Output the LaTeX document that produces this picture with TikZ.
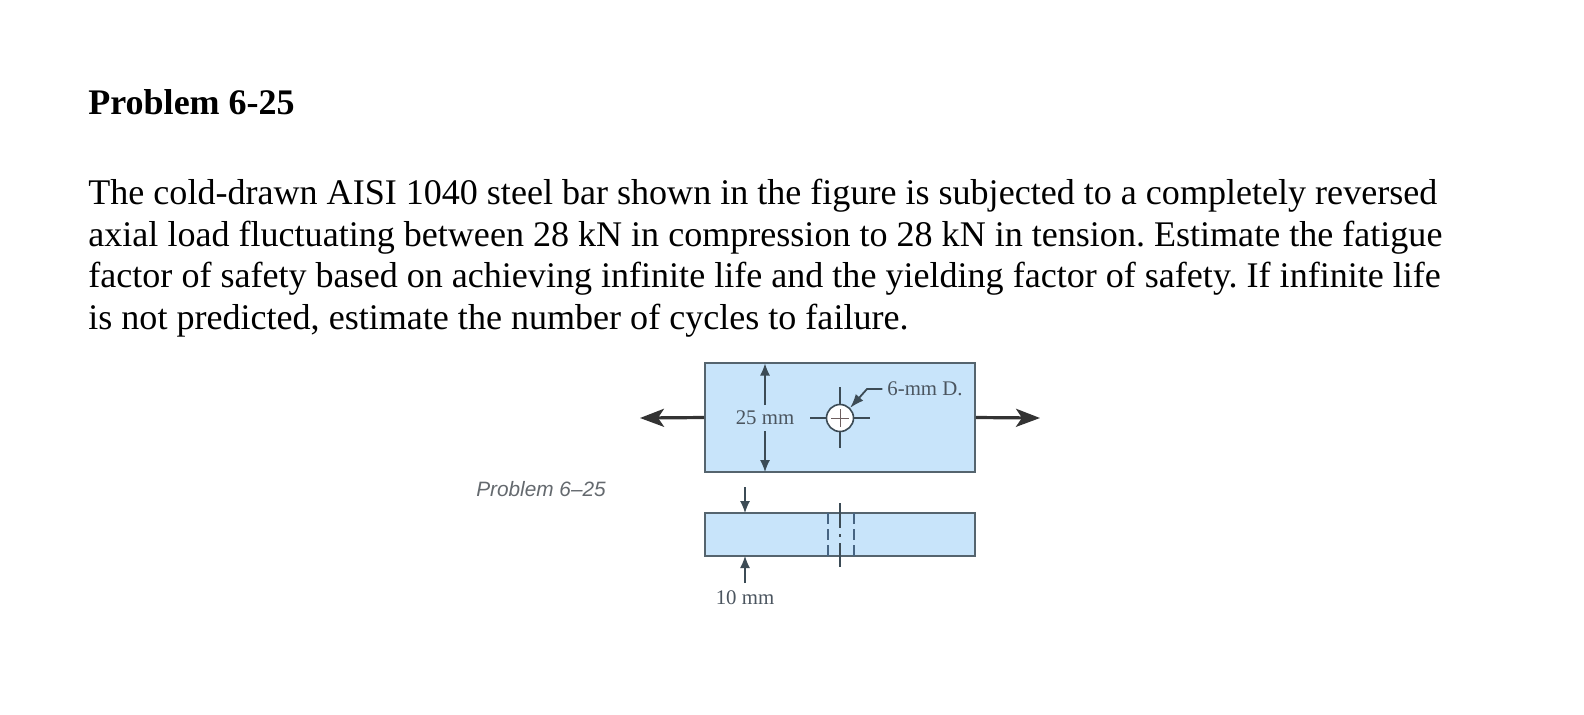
\documentclass[tikz,border=0pt]{standalone}
\usepackage{fontspec}
\usetikzlibrary{arrows.meta}
\setmainfont{Liberation Serif}
\setsansfont{Liberation Sans}
\definecolor{barfill}{RGB}{200,228,250}
\definecolor{barline}{RGB}{85,100,110}
\definecolor{dimline}{RGB}{60,75,85}
\definecolor{dimtext}{RGB}{75,85,95}
\definecolor{figtext}{RGB}{100,105,110}
\definecolor{hiddencol}{RGB}{70,100,130}
\definecolor{crosscol}{RGB}{110,95,95}
\tikzset{
  barbox/.style={draw=barline,line width=0.8pt,fill=barfill,minimum width=135pt,inner sep=0pt},
  dimarrow/.style={-{Latex[length=6pt,width=5pt]},draw=dimline,line width=0.6pt},
  leaderarrow/.style={-{Latex[length=7pt,width=5pt]},draw=dimline,line width=0.9pt},
  centerline/.style={draw=dimline,line width=0.55pt},
  crossline/.style={draw=crosscol,line width=0.5pt},
  hiddenline/.style={draw=hiddencol,line width=0.9pt,dash pattern=on 5.5pt off 2.5pt},
  loadarrow/.style={-{Stealth[length=12pt,width=9pt,inset=3pt]},draw=black!80,line width=1.6pt},
  dimlabel/.style={text=dimtext,font=\fontsize{10.4}{12}\selectfont,inner sep=0pt},
}
\begin{document}
\begin{tikzpicture}[>=latex,x=0.5pt,y=-0.5pt]
\useasboundingbox (0,0) rectangle (1584,714);
% text
\node (title) at (88,102)[anchor=west,inner sep=0pt,font=\fontsize{18}{21}\bfseries\selectfont]{Problem 6-25};
\node (para) at (88,318.5)[anchor=base west,yshift=-5.5pt,inner sep=0pt,align=left,font=\frenchspacing\fontsize{18.03}{20.8}\selectfont]{The cold-drawn AISI 1040 steel bar shown in the figure is subjected to a completely reversed\\
axial load fluctuating between 28 kN in compression to 28 kN in tension. Estimate the fatigue\\
factor of safety based on achieving infinite life and the yielding factor of safety. If infinite life\\
is not predicted, estimate the number of cycles to failure.};
% front view
\node (front) at (840,417.5)[barbox,minimum height=54.5pt]{};
\node (side) at (840,534.5)[barbox,minimum height=21.5pt]{};
\coordinate (leftload) at (640,418);
\coordinate (rightload) at (1040,418);
\draw[loadarrow](front.west)--(leftload);
\draw[loadarrow](front.east)--(rightload);
% hole
\node (hole) at (840,418)[circle,draw=dimline,line width=0.8pt,fill=white,minimum size=13.5pt,inner sep=0pt]{};
\draw[crossline](831,418)--(849,418);
\draw[crossline](840,409)--(840,427);
\draw[centerline](810,418)--(hole.west);
\draw[centerline](hole.east)--(870,418);
\draw[centerline](840,387)--(hole.north);
\draw[centerline](hole.south)--(840,448);
\node (holedim) at (925,389)[dimlabel,outer xsep=2.5pt]{6-mm D.};
\draw[leaderarrow](holedim.west)--(867,389)--(hole.north east);
% 25 mm
\node (widthdim) at (765,418)[dimlabel,outer ysep=3pt]{25 mm};
\draw[dimarrow](widthdim.north)--(765,363.5);
\draw[dimarrow](widthdim.south)--(765,472);
\node (figlabel) at (541,489)[inner sep=0pt,text=figtext,font=\sffamily\itshape\fontsize{10.4}{12}\selectfont]{Problem 6--25};
% side view
\coordinate (topstart) at (745,487);
\coordinate (topend) at (745,513);
\coordinate (botstart) at (745,583);
\coordinate (botend) at (745,556);
\draw[dimarrow](topstart)--(topend);
\draw[dimarrow](botstart)--(botend);
\node (thickdim) at (745,598)[dimlabel]{10 mm};
\draw[hiddenline](828,513)--(828,556);
\draw[hiddenline](854,513)--(854,556);
\draw[centerline,dash pattern=on 12.5pt off 3pt on 1.5pt off 3pt on 12.5pt off 20pt](840,503)--(840,567);
\end{tikzpicture}
\end{document}
